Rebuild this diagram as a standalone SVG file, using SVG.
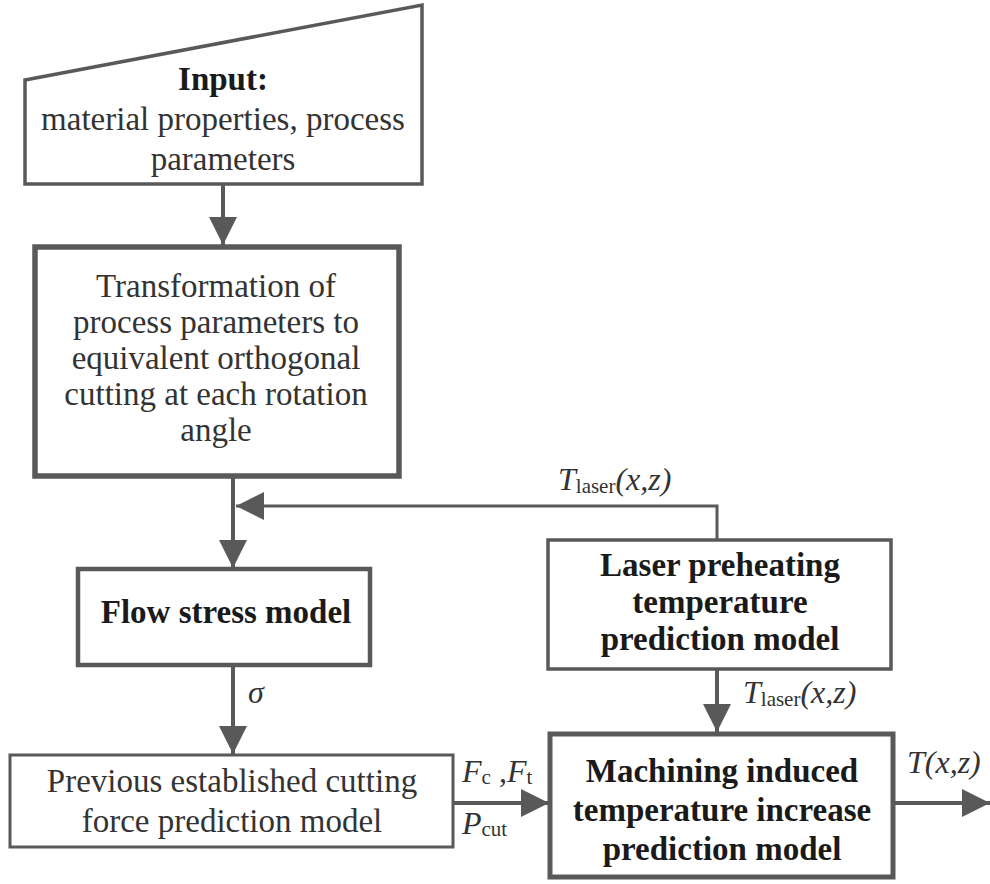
<svg xmlns="http://www.w3.org/2000/svg" width="990" height="884" viewBox="0 0 990 884">
<style>
.box{fill:#fff;stroke:#595959;stroke-linejoin:miter}
.reg{font-family:"Liberation Serif","Times New Roman",serif;font-size:33px;fill:#333;text-anchor:middle}
.bold{font-family:"Liberation Serif","Times New Roman",serif;font-size:33px;font-weight:bold;fill:#1a1a1a;text-anchor:middle}
.lbl{font-family:"Liberation Serif","Times New Roman",serif;font-size:32px;fill:#333}
.it{font-style:italic}
.sub{font-size:21px;font-style:normal}
.con{fill:none;stroke:#595959;stroke-width:4}
</style>
<defs>
<marker id="ah" markerUnits="userSpaceOnUse" markerWidth="28" markerHeight="28" viewBox="0 0 28 28" refX="28" refY="14" orient="auto">
<path d="M0,0 L28,14 L0,28 z" fill="#595959"/>
</marker>
</defs>
<rect width="990" height="884" fill="#fff"/>
<g id="connectors">
<line class="con" x1="223" y1="184" x2="223" y2="245" marker-end="url(#ah)"/>
<line class="con" x1="233" y1="477" x2="233" y2="568" marker-end="url(#ah)"/>
<polyline class="con" style="stroke-width:3" points="717,539 717,506 236,506" marker-end="url(#ah)"/>
<line class="con" x1="233" y1="666" x2="233" y2="754" marker-end="url(#ah)"/>
<line class="con" x1="717" y1="670" x2="717" y2="732" marker-end="url(#ah)"/>
<line class="con" x1="453" y1="803" x2="549" y2="803" marker-end="url(#ah)"/>
<line class="con" x1="894" y1="803" x2="990" y2="803" marker-end="url(#ah)"/>
<text class="lbl" x="558" y="490"><tspan class="it">T</tspan><tspan class="sub" dy="3">laser</tspan><tspan class="it" dy="-3">(x,z)</tspan></text>
<text class="lbl" x="248" y="703"><tspan class="it">σ</tspan></text>
<text class="lbl" x="743" y="703"><tspan class="it">T</tspan><tspan class="sub" dy="3">laser</tspan><tspan class="it" dy="-3">(x,z)</tspan></text>
<text class="lbl" x="462" y="782"><tspan class="it">F</tspan><tspan class="sub" dy="2">c</tspan><tspan dy="-2"> ,</tspan><tspan class="it">F</tspan><tspan class="sub" dy="2">t</tspan></text>
<text class="lbl" x="462" y="834"><tspan class="it">P</tspan><tspan class="sub" dy="2">cut</tspan></text>
<text class="lbl" x="907" y="773"><tspan class="it">T(x,z)</tspan></text>
</g>
<g id="input">
<polygon class="box" style="stroke-width:3.5" points="25,80 422,5 422,184 25,184"/>
<text class="bold" x="223" y="90">Input:</text>
<text class="reg" x="223" y="130">material properties, process</text>
<text class="reg" x="223" y="170">parameters</text>
</g>
<g id="transformation">
<rect class="box" style="stroke-width:5.5" x="35" y="247" width="364" height="229"/>
<text class="reg" x="216" y="297">Transformation of</text>
<text class="reg" x="216" y="333">process parameters to</text>
<text class="reg" x="216" y="369">equivalent orthogonal</text>
<text class="reg" x="216" y="405">cutting at each rotation</text>
<text class="reg" x="216" y="441">angle</text>
</g>
<g id="flow-stress">
<rect class="box" style="stroke-width:4.5" x="78" y="569" width="292" height="96"/>
<text class="bold" x="226" y="623">Flow stress model</text>
</g>
<g id="cutting-force">
<rect class="box" style="stroke-width:3" x="10" y="755" width="443" height="92"/>
<text class="reg" x="232" y="792">Previous established cutting</text>
<text class="reg" x="232" y="832">force prediction model</text>
</g>
<g id="laser">
<rect class="box" style="stroke-width:3.5" x="548" y="540" width="343" height="129"/>
<text class="bold" x="720" y="576">Laser preheating</text>
<text class="bold" x="720" y="613">temperature</text>
<text class="bold" x="720" y="650">prediction model</text>
</g>
<g id="machining">
<rect class="box" style="stroke-width:5" x="550" y="734" width="343" height="143"/>
<text class="bold" x="722" y="782">Machining induced</text>
<text class="bold" x="722" y="821">temperature increase</text>
<text class="bold" x="722" y="860">prediction model</text>
</g>
</svg>
